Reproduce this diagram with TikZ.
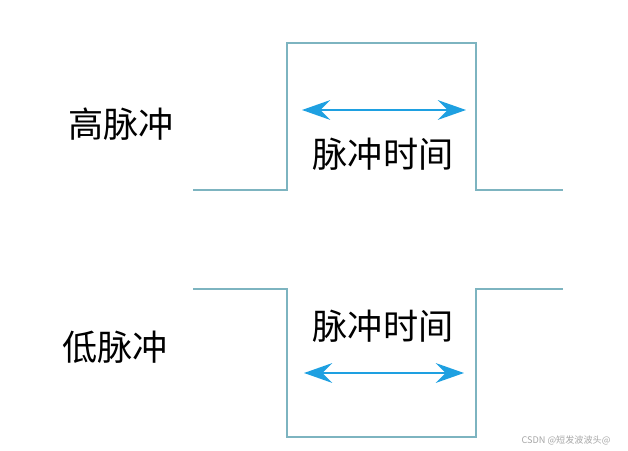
\documentclass[tikz,border=0pt]{standalone}
\usepackage{fontspec}
\newfontfamily\cjk{Noto Sans CJK SC}
\usetikzlibrary{arrows.meta,positioning}
\tikzstyle{pulse} = [draw={rgb,255:red,125;green,180;blue,192}, line width=1pt]
\tikzstyle{spanArrow} = [draw={rgb,255:red,30;green,160;blue,225}, line width=2pt, {Stealth[length=20pt,width=14pt,inset=7pt]}-{Stealth[length=20pt,width=14pt,inset=7pt]}]
\tikzstyle{pulseText} = [font=\cjk\fontsize{25pt}{25pt}\selectfont, inner sep=0pt]
\tikzstyle{creditText} = [font=\cjk\fontsize{6.5pt}{6.5pt}\selectfont, text=black!35, inner sep=0pt]

\begin{document}
\begin{tikzpicture}[x=0.025cm, y=-0.025cm]

	\useasboundingbox (0,0) rectangle (628,451);

	% high pulse
	\coordinate (hiStart) at (193,190);
	\coordinate (hiRise) at (287,190);
	\coordinate (hiTopL) at (287,43);
	\coordinate (hiTopR) at (476,43);
	\coordinate (hiFall) at (476,190);
	\coordinate (hiEnd) at (563,190);
	\draw [pulse] (hiStart) -- (hiRise) -- (hiTopL) -- (hiTopR) -- (hiFall) -- (hiEnd);

	\node (hiName) [pulseText] at (121,124) {高脉冲};
	\coordinate (hiArrowL) at (302,110);
	\coordinate (hiArrowR) at (466,110);
	\draw [spanArrow] (hiArrowL) -- (hiArrowR);
	\node (hiTime) [pulseText] at (383,154) {脉冲时间};

	% low pulse
	\coordinate (loStart) at (193,289);
	\coordinate (loFall) at (287,289);
	\coordinate (loBotL) at (287,437);
	\coordinate (loBotR) at (476,437);
	\coordinate (loRise) at (476,289);
	\coordinate (loEnd) at (563,289);
	\draw [pulse] (loStart) -- (loFall) -- (loBotL) -- (loBotR) -- (loRise) -- (loEnd);

	\node (loName) [pulseText] at (115,347) {低脉冲};
	\node (loTime) [pulseText] at (383,326) {脉冲时间};
	\coordinate (loArrowL) at (304,373);
	\coordinate (loArrowR) at (464,373);
	\draw [spanArrow] (loArrowL) -- (loArrowR);

	\node (credit) [creditText] at (566,440) {CSDN @短发波波头@};

\end{tikzpicture}
\end{document}
